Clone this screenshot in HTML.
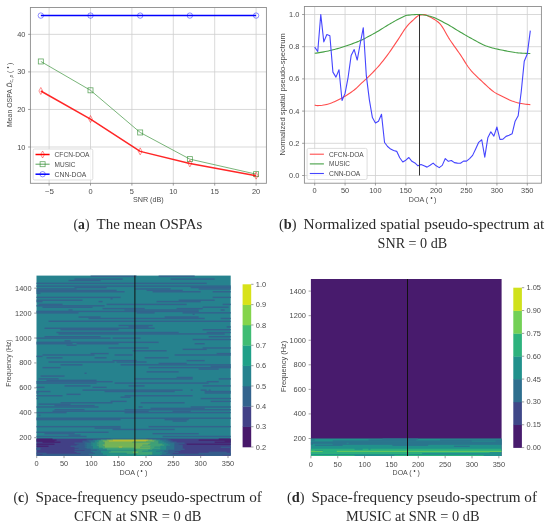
<!DOCTYPE html>
<html><head><meta charset="utf-8"><style>
html,body{margin:0;padding:0;background:#fff;}
svg{display:block;filter:blur(0.4px);}
text{font-family:"Liberation Sans",sans-serif;}
.cap{font-family:"Liberation Serif",serif;}
</style></head><body>
<svg width="550" height="529" viewBox="0 0 550 529">
<rect width="550" height="529" fill="#fff"/>
<line x1="49.1" y1="7.5" x2="49.1" y2="183.3" stroke="#cfcfcf" stroke-width="0.8" />
<line x1="90.5" y1="7.5" x2="90.5" y2="183.3" stroke="#cfcfcf" stroke-width="0.8" />
<line x1="131.9" y1="7.5" x2="131.9" y2="183.3" stroke="#cfcfcf" stroke-width="0.8" />
<line x1="173.3" y1="7.5" x2="173.3" y2="183.3" stroke="#cfcfcf" stroke-width="0.8" />
<line x1="214.7" y1="7.5" x2="214.7" y2="183.3" stroke="#cfcfcf" stroke-width="0.8" />
<line x1="256.1" y1="7.5" x2="256.1" y2="183.3" stroke="#cfcfcf" stroke-width="0.8" />
<line x1="30.4" y1="147" x2="266.4" y2="147" stroke="#cfcfcf" stroke-width="0.8" />
<line x1="30.4" y1="109.45" x2="266.4" y2="109.45" stroke="#cfcfcf" stroke-width="0.8" />
<line x1="30.4" y1="71.9" x2="266.4" y2="71.9" stroke="#cfcfcf" stroke-width="0.8" />
<line x1="30.4" y1="34.35" x2="266.4" y2="34.35" stroke="#cfcfcf" stroke-width="0.8" />
<polyline points="40.82,15.58 90.5,15.58 140.18,15.58 189.86,15.58 256.1,15.58" fill="none" stroke="#0000ff" stroke-width="1.5" stroke-linejoin="round" stroke-linecap="butt" />
<circle cx="40.82" cy="15.58" r="2.7" fill="none" stroke="#0000ff" stroke-opacity="0.55" stroke-width="0.8"/>
<circle cx="90.5" cy="15.58" r="2.7" fill="none" stroke="#0000ff" stroke-opacity="0.55" stroke-width="0.8"/>
<circle cx="140.18" cy="15.58" r="2.7" fill="none" stroke="#0000ff" stroke-opacity="0.55" stroke-width="0.8"/>
<circle cx="189.86" cy="15.58" r="2.7" fill="none" stroke="#0000ff" stroke-opacity="0.55" stroke-width="0.8"/>
<circle cx="256.1" cy="15.58" r="2.7" fill="none" stroke="#0000ff" stroke-opacity="0.55" stroke-width="0.8"/>
<polyline points="40.82,61.46 90.5,90.3 140.18,132.47 189.86,159.13 256.1,174.15" fill="none" stroke="#2e8b2e" stroke-width="0.8" stroke-linejoin="round" stroke-linecap="butt" stroke-opacity="0.8"/>
<rect x="38.32" y="58.96" width="5" height="5" fill="none" stroke="#2e8b2e" stroke-opacity="0.75" stroke-width="0.8"/>
<rect x="88" y="87.8" width="5" height="5" fill="none" stroke="#2e8b2e" stroke-opacity="0.75" stroke-width="0.8"/>
<rect x="137.68" y="129.97" width="5" height="5" fill="none" stroke="#2e8b2e" stroke-opacity="0.75" stroke-width="0.8"/>
<rect x="187.36" y="156.63" width="5" height="5" fill="none" stroke="#2e8b2e" stroke-opacity="0.75" stroke-width="0.8"/>
<rect x="253.6" y="171.65" width="5" height="5" fill="none" stroke="#2e8b2e" stroke-opacity="0.75" stroke-width="0.8"/>
<polyline points="40.82,90.98 90.5,119.06 140.18,151.39 189.86,163.41 256.1,175.65" fill="none" stroke="#ff0000" stroke-width="1.5" stroke-linejoin="round" stroke-linecap="butt" stroke-opacity="0.85"/>
<path d="M40.82,87.48 L42.72,90.98 L40.82,94.48 L38.92,90.98 Z" fill="none" stroke="#ff0000" stroke-opacity="0.55" stroke-width="0.8"/>
<path d="M90.5,115.56 L92.4,119.06 L90.5,122.56 L88.6,119.06 Z" fill="none" stroke="#ff0000" stroke-opacity="0.55" stroke-width="0.8"/>
<path d="M140.18,147.89 L142.08,151.39 L140.18,154.89 L138.28,151.39 Z" fill="none" stroke="#ff0000" stroke-opacity="0.55" stroke-width="0.8"/>
<path d="M189.86,159.91 L191.76,163.41 L189.86,166.91 L187.96,163.41 Z" fill="none" stroke="#ff0000" stroke-opacity="0.55" stroke-width="0.8"/>
<path d="M256.1,172.15 L258,175.65 L256.1,179.15 L254.2,175.65 Z" fill="none" stroke="#ff0000" stroke-opacity="0.55" stroke-width="0.8"/>
<rect x="30.4" y="7.5" width="236" height="175.8" fill="none" stroke="#8c8c8c" stroke-width="0.9"/>
<line x1="49.1" y1="183.3" x2="49.1" y2="185.6" stroke="#777" stroke-width="0.7" />
<text x="49.4" y="193.5" text-anchor="middle" font-size="7.2" fill="#4a4a4a"  textLength="9.12" lengthAdjust="spacingAndGlyphs">&#8722;5</text>
<line x1="90.5" y1="183.3" x2="90.5" y2="185.6" stroke="#777" stroke-width="0.7" />
<text x="90.5" y="193.5" text-anchor="middle" font-size="7.2" fill="#4a4a4a"  textLength="4.12" lengthAdjust="spacingAndGlyphs">0</text>
<line x1="131.9" y1="183.3" x2="131.9" y2="185.6" stroke="#777" stroke-width="0.7" />
<text x="131.9" y="193.5" text-anchor="middle" font-size="7.2" fill="#4a4a4a"  textLength="4.12" lengthAdjust="spacingAndGlyphs">5</text>
<line x1="173.3" y1="183.3" x2="173.3" y2="185.6" stroke="#777" stroke-width="0.7" />
<text x="173.3" y="193.5" text-anchor="middle" font-size="7.2" fill="#4a4a4a"  textLength="8.24" lengthAdjust="spacingAndGlyphs">10</text>
<line x1="214.7" y1="183.3" x2="214.7" y2="185.6" stroke="#777" stroke-width="0.7" />
<text x="214.7" y="193.5" text-anchor="middle" font-size="7.2" fill="#4a4a4a"  textLength="8.24" lengthAdjust="spacingAndGlyphs">15</text>
<line x1="256.1" y1="183.3" x2="256.1" y2="185.6" stroke="#777" stroke-width="0.7" />
<text x="256.1" y="193.5" text-anchor="middle" font-size="7.2" fill="#4a4a4a"  textLength="8.24" lengthAdjust="spacingAndGlyphs">20</text>
<line x1="28.1" y1="147" x2="30.4" y2="147" stroke="#777" stroke-width="0.7" />
<text x="25.5" y="149.55" text-anchor="end" font-size="7.2" fill="#4a4a4a"  textLength="8.24" lengthAdjust="spacingAndGlyphs">10</text>
<line x1="28.1" y1="109.45" x2="30.4" y2="109.45" stroke="#777" stroke-width="0.7" />
<text x="25.5" y="112" text-anchor="end" font-size="7.2" fill="#4a4a4a"  textLength="8.24" lengthAdjust="spacingAndGlyphs">20</text>
<line x1="28.1" y1="71.9" x2="30.4" y2="71.9" stroke="#777" stroke-width="0.7" />
<text x="25.5" y="74.45" text-anchor="end" font-size="7.2" fill="#4a4a4a"  textLength="8.24" lengthAdjust="spacingAndGlyphs">30</text>
<line x1="28.1" y1="34.35" x2="30.4" y2="34.35" stroke="#777" stroke-width="0.7" />
<text x="25.5" y="36.9" text-anchor="end" font-size="7.2" fill="#4a4a4a"  textLength="8.24" lengthAdjust="spacingAndGlyphs">40</text>
<text x="148.3" y="202" text-anchor="middle" font-size="7.2" fill="#4a4a4a" >SNR (dB)</text>
<text transform="translate(11.6,94.8) rotate(-90)" x="-32.2" textLength="64.4" lengthAdjust="spacingAndGlyphs" font-size="7.2" fill="#4a4a4a">Mean OSPA <tspan font-style="italic">D&#772;</tspan><tspan font-size="5" font-style="italic" dy="1.5">c, p</tspan><tspan dy="-1.5"> (&#8201;</tspan><tspan font-size="5" dy="-2">&#8728;</tspan><tspan dy="2">&#8201;)</tspan></text>
<rect x="33.2" y="149" width="59.6" height="31" rx="1.5" fill="#fff" fill-opacity="0.8" stroke="#d0d0d0" stroke-width="0.7"/>
<line x1="35.5" y1="154.5" x2="49.6" y2="154.5" stroke="#ff0000" stroke-width="1.5" />
<path d="M42.6,151 L44.5,154.5 L42.6,158 L40.7,154.5 Z" fill="none" stroke="#ff0000" stroke-opacity="0.55" stroke-width="0.8"/>
<text x="54.6" y="157" text-anchor="start" font-size="7.2" fill="#4a4a4a"  textLength="34.9" lengthAdjust="spacingAndGlyphs">CFCN-DOA</text>
<line x1="35.5" y1="164.2" x2="49.6" y2="164.2" stroke="#2e8b2e" stroke-width="0.8" />
<rect x="40.1" y="161.7" width="5" height="5" fill="none" stroke="#2e8b2e" stroke-opacity="0.75" stroke-width="0.8"/>
<text x="54.6" y="166.7" text-anchor="start" font-size="7.2" fill="#4a4a4a"  textLength="20.9" lengthAdjust="spacingAndGlyphs">MUSIC</text>
<line x1="35.5" y1="174.2" x2="49.6" y2="174.2" stroke="#0000ff" stroke-width="1.5" />
<circle cx="42.6" cy="174.2" r="2.7" fill="none" stroke="#0000ff" stroke-opacity="0.55" stroke-width="0.8"/>
<text x="54.6" y="176.7" text-anchor="start" font-size="7.2" fill="#4a4a4a"  textLength="31.8" lengthAdjust="spacingAndGlyphs">CNN-DOA</text>
<line x1="314.7" y1="6.5" x2="314.7" y2="183.2" stroke="#cfcfcf" stroke-width="0.8" />
<line x1="345.07" y1="6.5" x2="345.07" y2="183.2" stroke="#cfcfcf" stroke-width="0.8" />
<line x1="375.44" y1="6.5" x2="375.44" y2="183.2" stroke="#cfcfcf" stroke-width="0.8" />
<line x1="405.81" y1="6.5" x2="405.81" y2="183.2" stroke="#cfcfcf" stroke-width="0.8" />
<line x1="436.18" y1="6.5" x2="436.18" y2="183.2" stroke="#cfcfcf" stroke-width="0.8" />
<line x1="466.55" y1="6.5" x2="466.55" y2="183.2" stroke="#cfcfcf" stroke-width="0.8" />
<line x1="496.92" y1="6.5" x2="496.92" y2="183.2" stroke="#cfcfcf" stroke-width="0.8" />
<line x1="527.29" y1="6.5" x2="527.29" y2="183.2" stroke="#cfcfcf" stroke-width="0.8" />
<line x1="304.4" y1="175.5" x2="541.4" y2="175.5" stroke="#cfcfcf" stroke-width="0.8" />
<line x1="304.4" y1="143.3" x2="541.4" y2="143.3" stroke="#cfcfcf" stroke-width="0.8" />
<line x1="304.4" y1="111.1" x2="541.4" y2="111.1" stroke="#cfcfcf" stroke-width="0.8" />
<line x1="304.4" y1="78.9" x2="541.4" y2="78.9" stroke="#cfcfcf" stroke-width="0.8" />
<line x1="304.4" y1="46.7" x2="541.4" y2="46.7" stroke="#cfcfcf" stroke-width="0.8" />
<line x1="304.4" y1="14.5" x2="541.4" y2="14.5" stroke="#cfcfcf" stroke-width="0.8" />
<polyline points="314.7,105.14 316.22,105.47 317.74,105.63 319.26,105.57 320.77,105.43 322.29,105.22 323.81,104.96 325.33,104.67 326.85,104.37 328.37,103.99 329.88,103.51 331.4,102.96 332.92,102.34 334.44,101.67 335.96,100.96 337.48,100.22 339,99.47 340.51,98.71 342.03,97.93 343.55,97.1 345.07,96.22 346.59,95.3 348.11,94.33 349.63,93.32 351.14,92.26 352.66,91.15 354.18,90 355.7,88.77 357.22,87.35 358.74,85.85 360.25,84.37 361.77,82.97 363.29,81.58 364.81,80.19 366.33,78.78 367.85,77.32 369.37,75.83 370.88,74.33 372.4,72.8 373.92,71.25 375.44,69.65 376.96,68 378.48,66.3 380,64.53 381.51,62.71 383.03,60.83 384.55,58.9 386.07,56.92 387.59,54.9 389.11,52.79 390.62,50.61 392.14,48.38 393.66,46.12 395.18,43.85 396.7,41.58 398.22,39.33 399.74,37 401.25,34.6 402.77,32.22 404.29,29.92 405.81,27.78 407.33,25.9 408.85,24.21 410.37,22.67 411.88,21.23 413.4,19.86 414.92,18.4 416.44,16.98 417.96,15.84 419.48,15.22 421,14.86 422.51,14.6 424.03,14.5 425.55,14.76 427.07,15.4 428.59,16.24 430.11,17.08 431.62,17.86 433.14,18.69 434.66,19.59 436.18,20.6 437.7,21.73 439.22,23.03 440.74,24.7 442.25,26.84 443.77,29.31 445.29,31.98 446.81,34.71 448.33,37.35 449.85,39.78 451.37,42.01 452.88,44.18 454.4,46.32 455.92,48.43 457.44,50.56 458.96,52.71 460.48,54.91 461.99,57.23 463.51,59.65 465.03,62.11 466.55,64.5 468.07,66.74 469.59,68.76 471.11,70.57 472.62,72.27 474.14,73.88 475.66,75.41 477.18,76.89 478.7,78.33 480.22,79.74 481.74,81.15 483.25,82.58 484.77,84.01 486.29,85.44 487.81,86.85 489.33,88.21 490.85,89.51 492.36,90.73 493.88,91.86 495.4,92.88 496.92,93.77 498.44,94.57 499.96,95.3 501.48,95.99 502.99,96.68 504.51,97.4 506.03,98.17 507.55,98.95 509.07,99.72 510.59,100.44 512.11,101.06 513.62,101.58 515.14,102.06 516.66,102.5 518.18,102.9 519.7,103.25 521.22,103.53 522.73,103.78 524.25,104.02 525.77,104.23 527.29,104.41 528.81,104.56 530.33,104.66" fill="none" stroke="#ff4d4d" stroke-width="1.1" stroke-linejoin="round" stroke-linecap="butt" />
<polyline points="314.7,53.3 316.22,53.1 317.74,52.88 319.26,52.64 320.77,52.39 322.29,52.12 323.81,51.84 325.33,51.55 326.85,51.25 328.37,50.92 329.88,50.58 331.4,50.21 332.92,49.83 334.44,49.44 335.96,49.03 337.48,48.61 339,48.18 340.51,47.74 342.03,47.28 343.55,46.81 345.07,46.31 346.59,45.81 348.11,45.28 349.63,44.74 351.14,44.19 352.66,43.63 354.18,43.07 355.7,42.49 357.22,41.88 358.74,41.25 360.25,40.58 361.77,39.88 363.29,39.16 364.81,38.41 366.33,37.63 367.85,36.84 369.37,36.04 370.88,35.22 372.4,34.38 373.92,33.54 375.44,32.69 376.96,31.82 378.48,30.92 380,29.99 381.51,29.05 383.03,28.1 384.55,27.15 386.07,26.2 387.59,25.27 389.11,24.37 390.62,23.49 392.14,22.62 393.66,21.75 395.18,20.89 396.7,20.05 398.22,19.24 399.74,18.47 401.25,17.73 402.77,16.95 404.29,16.18 405.81,15.58 407.33,15.27 408.85,15.09 410.37,14.94 411.88,14.8 413.4,14.69 414.92,14.61 416.44,14.54 417.96,14.51 419.48,14.5 421,14.57 422.51,14.73 424.03,14.96 425.55,15.24 427.07,15.57 428.59,15.92 430.11,16.27 431.62,16.68 433.14,17.19 434.66,17.79 436.18,18.47 437.7,19.2 439.22,19.97 440.74,20.77 442.25,21.58 443.77,22.4 445.29,23.19 446.81,24 448.33,24.85 449.85,25.74 451.37,26.65 452.88,27.58 454.4,28.52 455.92,29.46 457.44,30.39 458.96,31.31 460.48,32.21 461.99,33.09 463.51,33.98 465.03,34.87 466.55,35.75 468.07,36.62 469.59,37.47 471.11,38.31 472.62,39.13 474.14,39.95 475.66,40.79 477.18,41.63 478.7,42.47 480.22,43.28 481.74,44.06 483.25,44.79 484.77,45.46 486.29,46.06 487.81,46.58 489.33,47.05 490.85,47.5 492.36,47.93 493.88,48.33 495.4,48.71 496.92,49.06 498.44,49.4 499.96,49.73 501.48,50.04 502.99,50.33 504.51,50.62 506.03,50.91 507.55,51.2 509.07,51.49 510.59,51.77 512.11,52.03 513.62,52.28 515.14,52.52 516.66,52.72 518.18,52.9 519.7,53.04 521.22,53.14 522.73,53.22 524.25,53.3 525.77,53.36 527.29,53.41 528.81,53.45 530.33,53.46" fill="none" stroke="#45a045" stroke-width="1.1" stroke-linejoin="round" stroke-linecap="butt" />
<polyline points="314.7,47.18 317.74,51.53 320.77,14.5 323.81,41.87 326.85,34.46 329.88,35.75 332.92,72.14 335.96,77.13 339,69.72 342.03,100.47 345.07,93.39 348.11,77.29 351.14,55.56 354.18,49.6 357.22,60.06 360.25,43.48 363.29,27.7 366.33,75.68 369.37,99.83 372.4,117.54 375.44,123.01 378.48,121.24 381.51,114.32 384.55,142.5 387.59,146.52 390.62,149.1 393.66,150.55 396.7,151.35 399.74,157.79 402.77,161.98 405.81,160.21 408.85,157.47 411.88,161.33 414.92,162.94 417.96,165.84 421,164.55 424.03,165.84 427.07,167.13 430.11,165.2 433.14,163.1 436.18,165.84 439.22,167.61 442.25,165.36 445.29,158.59 448.33,161.33 451.37,160.53 454.4,162.62 457.44,163.1 460.48,163.26 463.51,161.17 466.55,161.17 469.59,158.59 472.62,155.38 475.66,148.94 478.7,142.33 481.74,139.76 484.77,157.15 487.81,137.83 490.85,131.87 493.88,136.06 496.92,127.04 499.96,139.44 502.99,139.11 506.03,136.38 509.07,135.25 512.11,133.8 515.14,121.24 518.18,115.77 521.22,91.78 524.25,61.19 527.29,53.94 530.33,30.6" fill="none" stroke="#4545ff" stroke-width="1.1" stroke-linejoin="round" stroke-linecap="butt" />
<line x1="419.5" y1="14.5" x2="419.5" y2="175.5" stroke="#333" stroke-width="1.0" />
<rect x="304.4" y="6.5" width="237" height="176.7" fill="none" stroke="#8c8c8c" stroke-width="0.9"/>
<line x1="314.7" y1="183.2" x2="314.7" y2="185.5" stroke="#777" stroke-width="0.7" />
<text x="314.7" y="193" text-anchor="middle" font-size="7.2" fill="#4a4a4a"  textLength="4.12" lengthAdjust="spacingAndGlyphs">0</text>
<line x1="345.07" y1="183.2" x2="345.07" y2="185.5" stroke="#777" stroke-width="0.7" />
<text x="345.07" y="193" text-anchor="middle" font-size="7.2" fill="#4a4a4a"  textLength="8.24" lengthAdjust="spacingAndGlyphs">50</text>
<line x1="375.44" y1="183.2" x2="375.44" y2="185.5" stroke="#777" stroke-width="0.7" />
<text x="375.44" y="193" text-anchor="middle" font-size="7.2" fill="#4a4a4a"  textLength="12.36" lengthAdjust="spacingAndGlyphs">100</text>
<line x1="405.81" y1="183.2" x2="405.81" y2="185.5" stroke="#777" stroke-width="0.7" />
<text x="405.81" y="193" text-anchor="middle" font-size="7.2" fill="#4a4a4a"  textLength="12.36" lengthAdjust="spacingAndGlyphs">150</text>
<line x1="436.18" y1="183.2" x2="436.18" y2="185.5" stroke="#777" stroke-width="0.7" />
<text x="436.18" y="193" text-anchor="middle" font-size="7.2" fill="#4a4a4a"  textLength="12.36" lengthAdjust="spacingAndGlyphs">200</text>
<line x1="466.55" y1="183.2" x2="466.55" y2="185.5" stroke="#777" stroke-width="0.7" />
<text x="466.55" y="193" text-anchor="middle" font-size="7.2" fill="#4a4a4a"  textLength="12.36" lengthAdjust="spacingAndGlyphs">250</text>
<line x1="496.92" y1="183.2" x2="496.92" y2="185.5" stroke="#777" stroke-width="0.7" />
<text x="496.92" y="193" text-anchor="middle" font-size="7.2" fill="#4a4a4a"  textLength="12.36" lengthAdjust="spacingAndGlyphs">300</text>
<line x1="527.29" y1="183.2" x2="527.29" y2="185.5" stroke="#777" stroke-width="0.7" />
<text x="527.29" y="193" text-anchor="middle" font-size="7.2" fill="#4a4a4a"  textLength="12.36" lengthAdjust="spacingAndGlyphs">350</text>
<line x1="302.1" y1="175.5" x2="304.4" y2="175.5" stroke="#777" stroke-width="0.7" />
<text x="299.4" y="178.05" text-anchor="end" font-size="7.2" fill="#4a4a4a"  textLength="10.34" lengthAdjust="spacingAndGlyphs">0.0</text>
<line x1="302.1" y1="143.3" x2="304.4" y2="143.3" stroke="#777" stroke-width="0.7" />
<text x="299.4" y="145.85" text-anchor="end" font-size="7.2" fill="#4a4a4a"  textLength="10.34" lengthAdjust="spacingAndGlyphs">0.2</text>
<line x1="302.1" y1="111.1" x2="304.4" y2="111.1" stroke="#777" stroke-width="0.7" />
<text x="299.4" y="113.65" text-anchor="end" font-size="7.2" fill="#4a4a4a"  textLength="10.34" lengthAdjust="spacingAndGlyphs">0.4</text>
<line x1="302.1" y1="78.9" x2="304.4" y2="78.9" stroke="#777" stroke-width="0.7" />
<text x="299.4" y="81.45" text-anchor="end" font-size="7.2" fill="#4a4a4a"  textLength="10.34" lengthAdjust="spacingAndGlyphs">0.6</text>
<line x1="302.1" y1="46.7" x2="304.4" y2="46.7" stroke="#777" stroke-width="0.7" />
<text x="299.4" y="49.25" text-anchor="end" font-size="7.2" fill="#4a4a4a"  textLength="10.34" lengthAdjust="spacingAndGlyphs">0.8</text>
<line x1="302.1" y1="14.5" x2="304.4" y2="14.5" stroke="#777" stroke-width="0.7" />
<text x="299.4" y="17.05" text-anchor="end" font-size="7.2" fill="#4a4a4a"  textLength="10.34" lengthAdjust="spacingAndGlyphs">1.0</text>
<text x="408.8" y="201.6" textLength="27.6" lengthAdjust="spacingAndGlyphs" font-size="7.2" fill="#4a4a4a">DOA (&#8201;<tspan font-size="5" dy="-2">&#8728;</tspan><tspan dy="2">&#8201;)</tspan></text>
<text transform="translate(284.9,94.4) rotate(-90)" x="-61.1" textLength="122.2" lengthAdjust="spacingAndGlyphs" font-size="7.2" fill="#4a4a4a">Normalized spatial pseudo-spectrum</text>
<rect x="307.1" y="148.4" width="60" height="31.1" rx="1.5" fill="#fff" fill-opacity="0.8" stroke="#d0d0d0" stroke-width="0.7"/>
<line x1="309.8" y1="154.2" x2="323.9" y2="154.2" stroke="#ff4d4d" stroke-width="1.1" />
<text x="329.1" y="156.7" text-anchor="start" font-size="7.2" fill="#4a4a4a"  textLength="34.6" lengthAdjust="spacingAndGlyphs">CFCN-DOA</text>
<line x1="309.8" y1="163.9" x2="323.9" y2="163.9" stroke="#45a045" stroke-width="1.1" />
<text x="329.1" y="166.4" text-anchor="start" font-size="7.2" fill="#4a4a4a"  textLength="20.8" lengthAdjust="spacingAndGlyphs">MUSIC</text>
<line x1="309.8" y1="173.5" x2="323.9" y2="173.5" stroke="#4545ff" stroke-width="1.1" />
<text x="329.1" y="176" text-anchor="start" font-size="7.2" fill="#4a4a4a"  textLength="31.2" lengthAdjust="spacingAndGlyphs">CNN-DOA</text>
<rect x="36.5" y="275.6" width="194.2" height="180.2" fill="#26828e"/>
<rect x="90.56" y="275.6" width="46.05" height="1.41" fill="#33638d"/>
<rect x="158.63" y="275.6" width="36.04" height="1.41" fill="#33638d"/>
<rect x="74.54" y="278.41" width="48.05" height="1.41" fill="#33638d"/>
<rect x="170.64" y="278.41" width="44.05" height="1.41" fill="#33638d"/>
<rect x="68.53" y="279.82" width="32.03" height="1.41" fill="#33638d"/>
<rect x="36.5" y="282.63" width="170.18" height="1.41" fill="#33638d"/>
<rect x="36.5" y="285.44" width="194.2" height="1.41" fill="#33638d"/>
<rect x="74.54" y="286.84" width="32.03" height="1.41" fill="#33638d"/>
<rect x="190.66" y="286.84" width="40.04" height="1.41" fill="#33638d"/>
<rect x="36.5" y="288.25" width="40.04" height="1.41" fill="#33638d"/>
<rect x="134.6" y="288.25" width="36.04" height="1.41" fill="#33638d"/>
<rect x="198.67" y="288.25" width="32.03" height="1.41" fill="#33638d"/>
<rect x="36.5" y="289.65" width="80.08" height="1.41" fill="#33638d"/>
<rect x="146.61" y="289.65" width="36.04" height="1.41" fill="#33638d"/>
<rect x="36.5" y="291.06" width="88.09" height="1.41" fill="#33638d"/>
<rect x="152.62" y="291.06" width="48.05" height="1.41" fill="#33638d"/>
<rect x="212.68" y="291.06" width="18.02" height="1.41" fill="#33638d"/>
<rect x="36.5" y="292.46" width="4" height="1.41" fill="#33638d"/>
<rect x="36.5" y="296.68" width="84.09" height="1.41" fill="#33638d"/>
<rect x="212.68" y="296.68" width="18.02" height="1.41" fill="#33638d"/>
<rect x="110.58" y="298.08" width="2" height="1.41" fill="#33638d"/>
<rect x="36.5" y="299.49" width="46.05" height="1.41" fill="#33638d"/>
<rect x="178.65" y="299.49" width="36.04" height="1.41" fill="#33638d"/>
<rect x="36.5" y="300.89" width="6.01" height="1.41" fill="#33638d"/>
<rect x="98.56" y="300.89" width="4" height="1.41" fill="#33638d"/>
<rect x="156.62" y="300.89" width="44.05" height="1.41" fill="#33638d"/>
<rect x="38.5" y="303.7" width="24.02" height="1.41" fill="#33638d"/>
<rect x="106.57" y="303.7" width="80.08" height="1.41" fill="#33638d"/>
<rect x="222.69" y="303.7" width="8.01" height="1.41" fill="#33638d"/>
<rect x="36.5" y="305.11" width="68.07" height="1.41" fill="#33638d"/>
<rect x="42.51" y="306.51" width="50.05" height="1.41" fill="#33638d"/>
<rect x="202.67" y="306.51" width="26.03" height="1.41" fill="#33638d"/>
<rect x="102.57" y="307.92" width="42.04" height="1.41" fill="#33638d"/>
<rect x="176.64" y="307.92" width="26.03" height="1.41" fill="#33638d"/>
<rect x="68.53" y="309.32" width="4" height="1.41" fill="#33638d"/>
<rect x="124.59" y="309.32" width="74.08" height="1.41" fill="#33638d"/>
<rect x="220.69" y="309.32" width="4" height="1.41" fill="#33638d"/>
<rect x="36.5" y="310.73" width="162.17" height="1.41" fill="#33638d"/>
<rect x="36.5" y="312.13" width="42.04" height="1.41" fill="#33638d"/>
<rect x="136.6" y="312.13" width="18.02" height="1.41" fill="#33638d"/>
<rect x="182.65" y="312.13" width="48.05" height="1.41" fill="#33638d"/>
<rect x="192.66" y="313.54" width="2" height="1.41" fill="#33638d"/>
<rect x="78.54" y="316.35" width="22.02" height="1.41" fill="#33638d"/>
<rect x="164.63" y="316.35" width="34.04" height="1.41" fill="#33638d"/>
<rect x="88.55" y="317.76" width="116.12" height="1.41" fill="#33638d"/>
<rect x="220.69" y="317.76" width="10.01" height="1.41" fill="#33638d"/>
<rect x="48.51" y="320.57" width="182.19" height="1.41" fill="#33638d"/>
<rect x="118.58" y="324.78" width="34.04" height="1.41" fill="#33638d"/>
<rect x="128.59" y="326.19" width="20.02" height="1.41" fill="#33638d"/>
<rect x="226.7" y="326.19" width="4" height="1.41" fill="#33638d"/>
<rect x="44.51" y="327.59" width="110.11" height="1.41" fill="#33638d"/>
<rect x="60.52" y="329" width="58.06" height="1.41" fill="#33638d"/>
<rect x="202.67" y="329" width="28.03" height="1.41" fill="#33638d"/>
<rect x="56.52" y="331.81" width="122.13" height="1.41" fill="#33638d"/>
<rect x="206.68" y="331.81" width="24.02" height="1.41" fill="#33638d"/>
<rect x="58.52" y="333.21" width="166.17" height="1.41" fill="#33638d"/>
<rect x="44.51" y="336.02" width="56.06" height="1.41" fill="#33638d"/>
<rect x="208.68" y="336.02" width="22.02" height="1.41" fill="#33638d"/>
<rect x="36.5" y="337.43" width="74.08" height="1.41" fill="#33638d"/>
<rect x="112.58" y="337.43" width="28.03" height="1.41" fill="#33638d"/>
<rect x="192.66" y="338.83" width="38.04" height="1.41" fill="#33638d"/>
<rect x="64.53" y="340.24" width="6.01" height="1.41" fill="#33638d"/>
<rect x="36.5" y="341.64" width="122.13" height="1.41" fill="#33638d"/>
<rect x="36.5" y="343.05" width="36.04" height="1.41" fill="#33638d"/>
<rect x="76.54" y="343.05" width="42.04" height="1.41" fill="#33638d"/>
<rect x="194.66" y="343.05" width="10.01" height="1.41" fill="#33638d"/>
<rect x="66.53" y="344.45" width="10.01" height="1.41" fill="#33638d"/>
<rect x="108.57" y="347.26" width="40.04" height="1.41" fill="#33638d"/>
<rect x="202.67" y="347.26" width="28.03" height="1.41" fill="#33638d"/>
<rect x="182.65" y="348.67" width="24.02" height="1.41" fill="#33638d"/>
<rect x="132.6" y="350.07" width="34.04" height="1.41" fill="#33638d"/>
<rect x="90.56" y="352.88" width="18.02" height="1.41" fill="#33638d"/>
<rect x="216.69" y="352.88" width="14.01" height="1.41" fill="#33638d"/>
<rect x="42.51" y="354.29" width="52.05" height="1.41" fill="#33638d"/>
<rect x="114.58" y="354.29" width="18.02" height="1.41" fill="#33638d"/>
<rect x="174.64" y="354.29" width="56.06" height="1.41" fill="#33638d"/>
<rect x="36.5" y="355.69" width="6.01" height="1.41" fill="#33638d"/>
<rect x="46.51" y="357.1" width="16.02" height="1.41" fill="#33638d"/>
<rect x="94.56" y="357.1" width="12.01" height="1.41" fill="#33638d"/>
<rect x="144.61" y="357.1" width="24.02" height="1.41" fill="#33638d"/>
<rect x="112.58" y="359.91" width="24.02" height="1.41" fill="#33638d"/>
<rect x="186.65" y="359.91" width="18.02" height="1.41" fill="#33638d"/>
<rect x="48.51" y="361.32" width="66.07" height="1.41" fill="#33638d"/>
<rect x="116.58" y="361.32" width="30.03" height="1.41" fill="#33638d"/>
<rect x="158.63" y="362.72" width="28.03" height="1.41" fill="#33638d"/>
<rect x="60.52" y="364.13" width="22.02" height="1.41" fill="#33638d"/>
<rect x="120.59" y="364.13" width="110.11" height="1.41" fill="#33638d"/>
<rect x="210.68" y="365.53" width="20.02" height="1.41" fill="#33638d"/>
<rect x="42.51" y="366.94" width="18.02" height="1.41" fill="#33638d"/>
<rect x="148.62" y="366.94" width="82.08" height="1.41" fill="#33638d"/>
<rect x="198.67" y="368.34" width="20.02" height="1.41" fill="#33638d"/>
<rect x="146.61" y="371.15" width="32.03" height="1.41" fill="#33638d"/>
<rect x="84.55" y="372.56" width="2" height="1.41" fill="#33638d"/>
<rect x="40.5" y="375.37" width="24.02" height="1.41" fill="#33638d"/>
<rect x="176.64" y="376.77" width="16.02" height="1.41" fill="#33638d"/>
<rect x="38.5" y="378.18" width="20.02" height="1.41" fill="#33638d"/>
<rect x="134.6" y="378.18" width="58.06" height="1.41" fill="#33638d"/>
<rect x="218.69" y="378.18" width="12.01" height="1.41" fill="#33638d"/>
<rect x="46.51" y="379.58" width="50.05" height="1.41" fill="#33638d"/>
<rect x="36.5" y="380.99" width="76.08" height="1.41" fill="#33638d"/>
<rect x="206.68" y="380.99" width="12.01" height="1.41" fill="#33638d"/>
<rect x="36.5" y="382.39" width="60.06" height="1.41" fill="#33638d"/>
<rect x="114.58" y="382.39" width="94.1" height="1.41" fill="#33638d"/>
<rect x="64.53" y="385.2" width="26.03" height="1.41" fill="#33638d"/>
<rect x="128.59" y="385.2" width="16.02" height="1.41" fill="#33638d"/>
<rect x="202.67" y="385.2" width="28.03" height="1.41" fill="#33638d"/>
<rect x="36.5" y="386.61" width="8.01" height="1.41" fill="#33638d"/>
<rect x="92.56" y="386.61" width="14.01" height="1.41" fill="#33638d"/>
<rect x="82.55" y="389.42" width="100.1" height="1.41" fill="#33638d"/>
<rect x="190.66" y="389.42" width="2" height="1.41" fill="#33638d"/>
<rect x="200.67" y="389.42" width="6.01" height="1.41" fill="#33638d"/>
<rect x="208.68" y="389.42" width="2" height="1.41" fill="#33638d"/>
<rect x="36.5" y="390.82" width="14.01" height="1.41" fill="#33638d"/>
<rect x="104.57" y="390.82" width="70.07" height="1.41" fill="#33638d"/>
<rect x="204.67" y="390.82" width="26.03" height="1.41" fill="#33638d"/>
<rect x="36.5" y="392.23" width="2" height="1.41" fill="#33638d"/>
<rect x="204.67" y="392.23" width="26.03" height="1.41" fill="#33638d"/>
<rect x="66.53" y="393.63" width="14.01" height="1.41" fill="#33638d"/>
<rect x="36.5" y="395.04" width="26.03" height="1.41" fill="#33638d"/>
<rect x="124.59" y="395.04" width="68.07" height="1.41" fill="#33638d"/>
<rect x="120.59" y="396.44" width="10.01" height="1.41" fill="#33638d"/>
<rect x="36.5" y="397.85" width="2" height="1.41" fill="#33638d"/>
<rect x="200.67" y="397.85" width="30.03" height="1.41" fill="#33638d"/>
<rect x="110.58" y="400.66" width="16.02" height="1.41" fill="#33638d"/>
<rect x="210.68" y="400.66" width="20.02" height="1.41" fill="#33638d"/>
<rect x="60.52" y="402.07" width="52.05" height="1.41" fill="#33638d"/>
<rect x="140.61" y="402.07" width="44.05" height="1.41" fill="#33638d"/>
<rect x="38.5" y="403.47" width="32.03" height="1.41" fill="#33638d"/>
<rect x="54.52" y="404.88" width="40.04" height="1.41" fill="#33638d"/>
<rect x="36.5" y="406.28" width="62.06" height="1.41" fill="#33638d"/>
<rect x="138.61" y="406.28" width="4" height="1.41" fill="#33638d"/>
<rect x="190.66" y="406.28" width="40.04" height="1.41" fill="#33638d"/>
<rect x="150.62" y="407.69" width="54.06" height="1.41" fill="#33638d"/>
<rect x="54.52" y="409.09" width="30.03" height="1.41" fill="#33638d"/>
<rect x="124.59" y="409.09" width="106.11" height="1.41" fill="#33638d"/>
<rect x="52.52" y="410.5" width="96.1" height="1.41" fill="#33638d"/>
<rect x="172.64" y="410.5" width="18.02" height="1.41" fill="#33638d"/>
<rect x="36.5" y="411.9" width="30.03" height="1.41" fill="#33638d"/>
<rect x="124.59" y="411.9" width="106.11" height="1.41" fill="#33638d"/>
<rect x="38.5" y="414.71" width="2" height="1.41" fill="#33638d"/>
<rect x="36.5" y="417.52" width="194.2" height="1.41" fill="#33638d"/>
<rect x="36.5" y="418.93" width="84.09" height="1.41" fill="#33638d"/>
<rect x="164.63" y="418.93" width="24.02" height="1.41" fill="#33638d"/>
<rect x="172.64" y="420.33" width="14.01" height="1.41" fill="#33638d"/>
<rect x="36.5" y="425.95" width="84.09" height="1.41" fill="#33638d"/>
<rect x="148.62" y="425.95" width="82.08" height="1.41" fill="#33638d"/>
<rect x="94.56" y="427.36" width="26.03" height="1.41" fill="#33638d"/>
<rect x="112.58" y="428.76" width="62.06" height="1.41" fill="#33638d"/>
<rect x="36.5" y="431.57" width="72.07" height="1.41" fill="#33638d"/>
<rect x="44.51" y="432.98" width="30.03" height="1.41" fill="#33638d"/>
<rect x="152.62" y="432.98" width="46.05" height="1.41" fill="#33638d"/>
<rect x="68.53" y="434.38" width="12.01" height="1.41" fill="#33638d"/>
<rect x="36.5" y="435.79" width="50.05" height="1.41" fill="#33638d"/>
<rect x="162.63" y="435.79" width="68.07" height="1.41" fill="#33638d"/>
<rect x="36.5" y="438.6" width="194.2" height="17.2" fill="#424086"/>
<rect x="36.5" y="438.6" width="16.02" height="1.01" fill="#48186a"/>
<rect x="100.57" y="438.6" width="10.01" height="1.01" fill="#33638d"/>
<rect x="110.58" y="438.6" width="36.04" height="1.01" fill="#26828e"/>
<rect x="146.61" y="438.6" width="22.02" height="1.01" fill="#33638d"/>
<rect x="218.69" y="438.6" width="12.01" height="1.01" fill="#48186a"/>
<rect x="36.5" y="439.61" width="20.02" height="1.01" fill="#48186a"/>
<rect x="86.55" y="439.61" width="6.01" height="1.01" fill="#33638d"/>
<rect x="92.56" y="439.61" width="4" height="1.01" fill="#26828e"/>
<rect x="96.56" y="439.61" width="4" height="1.01" fill="#1fa088"/>
<rect x="100.57" y="439.61" width="6.01" height="1.01" fill="#3fbc73"/>
<rect x="106.57" y="439.61" width="6.01" height="1.01" fill="#84d44b"/>
<rect x="112.58" y="439.61" width="36.04" height="1.01" fill="#d8e219"/>
<rect x="148.62" y="439.61" width="4" height="1.01" fill="#84d44b"/>
<rect x="152.62" y="439.61" width="4" height="1.01" fill="#3fbc73"/>
<rect x="156.62" y="439.61" width="4" height="1.01" fill="#1fa088"/>
<rect x="160.63" y="439.61" width="6.01" height="1.01" fill="#26828e"/>
<rect x="166.63" y="439.61" width="4" height="1.01" fill="#33638d"/>
<rect x="198.67" y="439.61" width="32.03" height="1.01" fill="#48186a"/>
<rect x="36.5" y="440.62" width="18.02" height="1.01" fill="#48186a"/>
<rect x="82.55" y="440.62" width="6.01" height="1.01" fill="#33638d"/>
<rect x="88.55" y="440.62" width="6.01" height="1.01" fill="#26828e"/>
<rect x="94.56" y="440.62" width="4" height="1.01" fill="#1fa088"/>
<rect x="98.56" y="440.62" width="4" height="1.01" fill="#3fbc73"/>
<rect x="102.57" y="440.62" width="6.01" height="1.01" fill="#84d44b"/>
<rect x="108.57" y="440.62" width="38.04" height="1.01" fill="#d8e219"/>
<rect x="146.61" y="440.62" width="8.01" height="1.01" fill="#84d44b"/>
<rect x="154.62" y="440.62" width="4" height="1.01" fill="#3fbc73"/>
<rect x="158.63" y="440.62" width="4" height="1.01" fill="#1fa088"/>
<rect x="162.63" y="440.62" width="6.01" height="1.01" fill="#26828e"/>
<rect x="168.64" y="440.62" width="4" height="1.01" fill="#33638d"/>
<rect x="224.69" y="440.62" width="6.01" height="1.01" fill="#48186a"/>
<rect x="42.51" y="441.64" width="18.02" height="1.01" fill="#48186a"/>
<rect x="82.55" y="441.64" width="8.01" height="1.01" fill="#33638d"/>
<rect x="90.56" y="441.64" width="4" height="1.01" fill="#26828e"/>
<rect x="94.56" y="441.64" width="4" height="1.01" fill="#1fa088"/>
<rect x="98.56" y="441.64" width="6.01" height="1.01" fill="#3fbc73"/>
<rect x="104.57" y="441.64" width="28.03" height="1.01" fill="#84d44b"/>
<rect x="132.6" y="441.64" width="26.03" height="1.01" fill="#3fbc73"/>
<rect x="158.63" y="441.64" width="6.01" height="1.01" fill="#1fa088"/>
<rect x="164.63" y="441.64" width="6.01" height="1.01" fill="#26828e"/>
<rect x="170.64" y="441.64" width="6.01" height="1.01" fill="#33638d"/>
<rect x="214.68" y="441.64" width="16.02" height="1.01" fill="#48186a"/>
<rect x="74.54" y="442.65" width="10.01" height="1.01" fill="#33638d"/>
<rect x="84.55" y="442.65" width="6.01" height="1.01" fill="#26828e"/>
<rect x="90.56" y="442.65" width="6.01" height="1.01" fill="#1fa088"/>
<rect x="96.56" y="442.65" width="8.01" height="1.01" fill="#3fbc73"/>
<rect x="104.57" y="442.65" width="46.05" height="1.01" fill="#84d44b"/>
<rect x="150.62" y="442.65" width="8.01" height="1.01" fill="#3fbc73"/>
<rect x="158.63" y="442.65" width="8.01" height="1.01" fill="#1fa088"/>
<rect x="166.63" y="442.65" width="8.01" height="1.01" fill="#26828e"/>
<rect x="174.64" y="442.65" width="10.01" height="1.01" fill="#33638d"/>
<rect x="36.5" y="443.66" width="18.02" height="1.01" fill="#48186a"/>
<rect x="78.54" y="443.66" width="8.01" height="1.01" fill="#33638d"/>
<rect x="86.55" y="443.66" width="6.01" height="1.01" fill="#26828e"/>
<rect x="92.56" y="443.66" width="6.01" height="1.01" fill="#1fa088"/>
<rect x="98.56" y="443.66" width="6.01" height="1.01" fill="#3fbc73"/>
<rect x="104.57" y="443.66" width="44.05" height="1.01" fill="#84d44b"/>
<rect x="148.62" y="443.66" width="14.01" height="1.01" fill="#3fbc73"/>
<rect x="162.63" y="443.66" width="6.01" height="1.01" fill="#1fa088"/>
<rect x="168.64" y="443.66" width="6.01" height="1.01" fill="#26828e"/>
<rect x="174.64" y="443.66" width="4" height="1.01" fill="#33638d"/>
<rect x="186.65" y="443.66" width="44.05" height="1.01" fill="#48186a"/>
<rect x="76.54" y="444.67" width="8.01" height="1.01" fill="#33638d"/>
<rect x="84.55" y="444.67" width="6.01" height="1.01" fill="#26828e"/>
<rect x="90.56" y="444.67" width="6.01" height="1.01" fill="#1fa088"/>
<rect x="96.56" y="444.67" width="6.01" height="1.01" fill="#3fbc73"/>
<rect x="102.57" y="444.67" width="40.04" height="1.01" fill="#84d44b"/>
<rect x="142.61" y="444.67" width="22.02" height="1.01" fill="#3fbc73"/>
<rect x="164.63" y="444.67" width="6.01" height="1.01" fill="#1fa088"/>
<rect x="170.64" y="444.67" width="4" height="1.01" fill="#26828e"/>
<rect x="174.64" y="444.67" width="8.01" height="1.01" fill="#33638d"/>
<rect x="36.5" y="445.68" width="12.01" height="1.01" fill="#48186a"/>
<rect x="70.54" y="445.68" width="16.02" height="1.01" fill="#33638d"/>
<rect x="86.55" y="445.68" width="6.01" height="1.01" fill="#26828e"/>
<rect x="92.56" y="445.68" width="6.01" height="1.01" fill="#1fa088"/>
<rect x="98.56" y="445.68" width="6.01" height="1.01" fill="#3fbc73"/>
<rect x="104.57" y="445.68" width="46.05" height="1.01" fill="#84d44b"/>
<rect x="150.62" y="445.68" width="10.01" height="1.01" fill="#3fbc73"/>
<rect x="160.63" y="445.68" width="6.01" height="1.01" fill="#1fa088"/>
<rect x="166.63" y="445.68" width="8.01" height="1.01" fill="#26828e"/>
<rect x="174.64" y="445.68" width="8.01" height="1.01" fill="#33638d"/>
<rect x="74.54" y="446.69" width="10.01" height="1.01" fill="#33638d"/>
<rect x="84.55" y="446.69" width="8.01" height="1.01" fill="#26828e"/>
<rect x="92.56" y="446.69" width="6.01" height="1.01" fill="#1fa088"/>
<rect x="98.56" y="446.69" width="6.01" height="1.01" fill="#3fbc73"/>
<rect x="104.57" y="446.69" width="14.01" height="1.01" fill="#84d44b"/>
<rect x="118.58" y="446.69" width="4" height="1.01" fill="#d8e219"/>
<rect x="122.59" y="446.69" width="18.02" height="1.01" fill="#84d44b"/>
<rect x="140.61" y="446.69" width="14.01" height="1.01" fill="#3fbc73"/>
<rect x="154.62" y="446.69" width="12.01" height="1.01" fill="#1fa088"/>
<rect x="166.63" y="446.69" width="8.01" height="1.01" fill="#26828e"/>
<rect x="174.64" y="446.69" width="8.01" height="1.01" fill="#33638d"/>
<rect x="220.69" y="446.69" width="10.01" height="1.01" fill="#33638d"/>
<rect x="36.5" y="447.71" width="4" height="1.01" fill="#33638d"/>
<rect x="78.54" y="447.71" width="8.01" height="1.01" fill="#33638d"/>
<rect x="86.55" y="447.71" width="6.01" height="1.01" fill="#26828e"/>
<rect x="92.56" y="447.71" width="10.01" height="1.01" fill="#1fa088"/>
<rect x="102.57" y="447.71" width="32.03" height="1.01" fill="#3fbc73"/>
<rect x="134.6" y="447.71" width="16.02" height="1.01" fill="#84d44b"/>
<rect x="150.62" y="447.71" width="10.01" height="1.01" fill="#3fbc73"/>
<rect x="160.63" y="447.71" width="6.01" height="1.01" fill="#1fa088"/>
<rect x="166.63" y="447.71" width="8.01" height="1.01" fill="#26828e"/>
<rect x="174.64" y="447.71" width="8.01" height="1.01" fill="#33638d"/>
<rect x="36.5" y="448.72" width="4" height="1.01" fill="#33638d"/>
<rect x="74.54" y="448.72" width="16.02" height="1.01" fill="#33638d"/>
<rect x="90.56" y="448.72" width="8.01" height="1.01" fill="#26828e"/>
<rect x="98.56" y="448.72" width="8.01" height="1.01" fill="#1fa088"/>
<rect x="106.57" y="448.72" width="46.05" height="1.01" fill="#3fbc73"/>
<rect x="152.62" y="448.72" width="14.01" height="1.01" fill="#1fa088"/>
<rect x="166.63" y="448.72" width="8.01" height="1.01" fill="#26828e"/>
<rect x="174.64" y="448.72" width="10.01" height="1.01" fill="#33638d"/>
<rect x="84.55" y="449.73" width="12.01" height="1.01" fill="#33638d"/>
<rect x="96.56" y="449.73" width="10.01" height="1.01" fill="#26828e"/>
<rect x="106.57" y="449.73" width="30.03" height="1.01" fill="#1fa088"/>
<rect x="136.6" y="449.73" width="12.01" height="1.01" fill="#3fbc73"/>
<rect x="148.62" y="449.73" width="12.01" height="1.01" fill="#1fa088"/>
<rect x="160.63" y="449.73" width="8.01" height="1.01" fill="#26828e"/>
<rect x="168.64" y="449.73" width="12.01" height="1.01" fill="#33638d"/>
<rect x="74.54" y="450.74" width="16.02" height="1.01" fill="#33638d"/>
<rect x="90.56" y="450.74" width="10.01" height="1.01" fill="#26828e"/>
<rect x="100.57" y="450.74" width="10.01" height="1.01" fill="#1fa088"/>
<rect x="110.58" y="450.74" width="32.03" height="1.01" fill="#3fbc73"/>
<rect x="142.61" y="450.74" width="14.01" height="1.01" fill="#1fa088"/>
<rect x="156.62" y="450.74" width="8.01" height="1.01" fill="#26828e"/>
<rect x="164.63" y="450.74" width="10.01" height="1.01" fill="#33638d"/>
<rect x="76.54" y="451.75" width="16.02" height="1.01" fill="#33638d"/>
<rect x="92.56" y="451.75" width="8.01" height="1.01" fill="#26828e"/>
<rect x="100.57" y="451.75" width="8.01" height="1.01" fill="#1fa088"/>
<rect x="108.57" y="451.75" width="24.02" height="1.01" fill="#3fbc73"/>
<rect x="132.6" y="451.75" width="6.01" height="1.01" fill="#84d44b"/>
<rect x="138.61" y="451.75" width="14.01" height="1.01" fill="#3fbc73"/>
<rect x="152.62" y="451.75" width="10.01" height="1.01" fill="#1fa088"/>
<rect x="162.63" y="451.75" width="6.01" height="1.01" fill="#26828e"/>
<rect x="168.64" y="451.75" width="10.01" height="1.01" fill="#33638d"/>
<rect x="208.68" y="451.75" width="18.02" height="1.01" fill="#33638d"/>
<rect x="36.5" y="452.76" width="10.01" height="1.01" fill="#33638d"/>
<rect x="80.55" y="452.76" width="14.01" height="1.01" fill="#33638d"/>
<rect x="94.56" y="452.76" width="8.01" height="1.01" fill="#26828e"/>
<rect x="102.57" y="452.76" width="24.02" height="1.01" fill="#1fa088"/>
<rect x="126.59" y="452.76" width="26.03" height="1.01" fill="#3fbc73"/>
<rect x="152.62" y="452.76" width="8.01" height="1.01" fill="#1fa088"/>
<rect x="160.63" y="452.76" width="6.01" height="1.01" fill="#26828e"/>
<rect x="166.63" y="452.76" width="6.01" height="1.01" fill="#33638d"/>
<rect x="198.67" y="452.76" width="32.03" height="1.01" fill="#33638d"/>
<rect x="42.51" y="453.78" width="46.05" height="1.01" fill="#33638d"/>
<rect x="88.55" y="453.78" width="14.01" height="1.01" fill="#26828e"/>
<rect x="102.57" y="453.78" width="34.04" height="1.01" fill="#1fa088"/>
<rect x="136.6" y="453.78" width="16.02" height="1.01" fill="#3fbc73"/>
<rect x="152.62" y="453.78" width="10.01" height="1.01" fill="#1fa088"/>
<rect x="162.63" y="453.78" width="8.01" height="1.01" fill="#26828e"/>
<rect x="170.64" y="453.78" width="60.06" height="1.01" fill="#33638d"/>
<rect x="36.5" y="454.79" width="56.06" height="1.01" fill="#33638d"/>
<rect x="92.56" y="454.79" width="14.01" height="1.01" fill="#26828e"/>
<rect x="106.57" y="454.79" width="42.04" height="1.01" fill="#1fa088"/>
<rect x="148.62" y="454.79" width="12.01" height="1.01" fill="#26828e"/>
<rect x="160.63" y="454.79" width="24.02" height="1.01" fill="#33638d"/>
<rect x="204.67" y="454.79" width="18.02" height="1.01" fill="#33638d"/>
<line x1="134.9" y1="275.6" x2="134.9" y2="455.8" stroke="#111" stroke-width="1.0" />
<line x1="36.7" y1="455.8" x2="36.7" y2="458.1" stroke="#777" stroke-width="0.7" />
<text x="36.7" y="466.2" text-anchor="middle" font-size="7.2" fill="#4a4a4a"  textLength="4.12" lengthAdjust="spacingAndGlyphs">0</text>
<line x1="64.03" y1="455.8" x2="64.03" y2="458.1" stroke="#777" stroke-width="0.7" />
<text x="64.03" y="466.2" text-anchor="middle" font-size="7.2" fill="#4a4a4a"  textLength="8.24" lengthAdjust="spacingAndGlyphs">50</text>
<line x1="91.36" y1="455.8" x2="91.36" y2="458.1" stroke="#777" stroke-width="0.7" />
<text x="91.36" y="466.2" text-anchor="middle" font-size="7.2" fill="#4a4a4a"  textLength="12.36" lengthAdjust="spacingAndGlyphs">100</text>
<line x1="118.69" y1="455.8" x2="118.69" y2="458.1" stroke="#777" stroke-width="0.7" />
<text x="118.69" y="466.2" text-anchor="middle" font-size="7.2" fill="#4a4a4a"  textLength="12.36" lengthAdjust="spacingAndGlyphs">150</text>
<line x1="146.02" y1="455.8" x2="146.02" y2="458.1" stroke="#777" stroke-width="0.7" />
<text x="146.02" y="466.2" text-anchor="middle" font-size="7.2" fill="#4a4a4a"  textLength="12.36" lengthAdjust="spacingAndGlyphs">200</text>
<line x1="173.35" y1="455.8" x2="173.35" y2="458.1" stroke="#777" stroke-width="0.7" />
<text x="173.35" y="466.2" text-anchor="middle" font-size="7.2" fill="#4a4a4a"  textLength="12.36" lengthAdjust="spacingAndGlyphs">250</text>
<line x1="200.68" y1="455.8" x2="200.68" y2="458.1" stroke="#777" stroke-width="0.7" />
<text x="200.68" y="466.2" text-anchor="middle" font-size="7.2" fill="#4a4a4a"  textLength="12.36" lengthAdjust="spacingAndGlyphs">300</text>
<line x1="228.01" y1="455.8" x2="228.01" y2="458.1" stroke="#777" stroke-width="0.7" />
<text x="228.01" y="466.2" text-anchor="middle" font-size="7.2" fill="#4a4a4a"  textLength="12.36" lengthAdjust="spacingAndGlyphs">350</text>
<line x1="34.2" y1="437.7" x2="36.5" y2="437.7" stroke="#777" stroke-width="0.7" />
<text x="31.6" y="440.25" text-anchor="end" font-size="7.2" fill="#4a4a4a"  textLength="12.36" lengthAdjust="spacingAndGlyphs">200</text>
<line x1="34.2" y1="412.78" x2="36.5" y2="412.78" stroke="#777" stroke-width="0.7" />
<text x="31.6" y="415.33" text-anchor="end" font-size="7.2" fill="#4a4a4a"  textLength="12.36" lengthAdjust="spacingAndGlyphs">400</text>
<line x1="34.2" y1="387.86" x2="36.5" y2="387.86" stroke="#777" stroke-width="0.7" />
<text x="31.6" y="390.41" text-anchor="end" font-size="7.2" fill="#4a4a4a"  textLength="12.36" lengthAdjust="spacingAndGlyphs">600</text>
<line x1="34.2" y1="362.94" x2="36.5" y2="362.94" stroke="#777" stroke-width="0.7" />
<text x="31.6" y="365.49" text-anchor="end" font-size="7.2" fill="#4a4a4a"  textLength="12.36" lengthAdjust="spacingAndGlyphs">800</text>
<line x1="34.2" y1="338.02" x2="36.5" y2="338.02" stroke="#777" stroke-width="0.7" />
<text x="31.6" y="340.57" text-anchor="end" font-size="7.2" fill="#4a4a4a"  textLength="16.48" lengthAdjust="spacingAndGlyphs">1000</text>
<line x1="34.2" y1="313.1" x2="36.5" y2="313.1" stroke="#777" stroke-width="0.7" />
<text x="31.6" y="315.65" text-anchor="end" font-size="7.2" fill="#4a4a4a"  textLength="16.48" lengthAdjust="spacingAndGlyphs">1200</text>
<line x1="34.2" y1="288.18" x2="36.5" y2="288.18" stroke="#777" stroke-width="0.7" />
<text x="31.6" y="290.73" text-anchor="end" font-size="7.2" fill="#4a4a4a"  textLength="16.48" lengthAdjust="spacingAndGlyphs">1400</text>
<text x="119.5" y="475.2" textLength="27.8" lengthAdjust="spacingAndGlyphs" font-size="7.2" fill="#4a4a4a">DOA (&#8201;<tspan font-size="5" dy="-2">&#8728;</tspan><tspan dy="2">&#8201;)</tspan></text>
<text transform="translate(10.5,363.1) rotate(-90)" x="-23.7" textLength="47.4" lengthAdjust="spacingAndGlyphs" font-size="7.2" fill="#4a4a4a">Frequency (Hz)</text>
<rect x="242.6" y="426.66" width="8.6" height="20.64" fill="#48186a"/>
<rect x="242.6" y="406.32" width="8.6" height="20.64" fill="#424086"/>
<rect x="242.6" y="385.99" width="8.6" height="20.64" fill="#33638d"/>
<rect x="242.6" y="365.65" width="8.6" height="20.64" fill="#26828e"/>
<rect x="242.6" y="345.31" width="8.6" height="20.64" fill="#1fa088"/>
<rect x="242.6" y="324.98" width="8.6" height="20.64" fill="#3fbc73"/>
<rect x="242.6" y="304.64" width="8.6" height="20.64" fill="#84d44b"/>
<rect x="242.6" y="284.3" width="8.6" height="20.64" fill="#d8e219"/>
<line x1="251.2" y1="447" x2="253.5" y2="447" stroke="#777" stroke-width="0.7" />
<text x="255.8" y="449.55" text-anchor="start" font-size="7.2" fill="#4a4a4a"  textLength="10.34" lengthAdjust="spacingAndGlyphs">0.2</text>
<line x1="251.2" y1="426.66" x2="253.5" y2="426.66" stroke="#777" stroke-width="0.7" />
<text x="255.8" y="429.21" text-anchor="start" font-size="7.2" fill="#4a4a4a"  textLength="10.34" lengthAdjust="spacingAndGlyphs">0.3</text>
<line x1="251.2" y1="406.32" x2="253.5" y2="406.32" stroke="#777" stroke-width="0.7" />
<text x="255.8" y="408.88" text-anchor="start" font-size="7.2" fill="#4a4a4a"  textLength="10.34" lengthAdjust="spacingAndGlyphs">0.4</text>
<line x1="251.2" y1="385.99" x2="253.5" y2="385.99" stroke="#777" stroke-width="0.7" />
<text x="255.8" y="388.54" text-anchor="start" font-size="7.2" fill="#4a4a4a"  textLength="10.34" lengthAdjust="spacingAndGlyphs">0.5</text>
<line x1="251.2" y1="365.65" x2="253.5" y2="365.65" stroke="#777" stroke-width="0.7" />
<text x="255.8" y="368.2" text-anchor="start" font-size="7.2" fill="#4a4a4a"  textLength="10.34" lengthAdjust="spacingAndGlyphs">0.6</text>
<line x1="251.2" y1="345.31" x2="253.5" y2="345.31" stroke="#777" stroke-width="0.7" />
<text x="255.8" y="347.86" text-anchor="start" font-size="7.2" fill="#4a4a4a"  textLength="10.34" lengthAdjust="spacingAndGlyphs">0.7</text>
<line x1="251.2" y1="324.98" x2="253.5" y2="324.98" stroke="#777" stroke-width="0.7" />
<text x="255.8" y="327.53" text-anchor="start" font-size="7.2" fill="#4a4a4a"  textLength="10.34" lengthAdjust="spacingAndGlyphs">0.8</text>
<line x1="251.2" y1="304.64" x2="253.5" y2="304.64" stroke="#777" stroke-width="0.7" />
<text x="255.8" y="307.19" text-anchor="start" font-size="7.2" fill="#4a4a4a"  textLength="10.34" lengthAdjust="spacingAndGlyphs">0.9</text>
<line x1="251.2" y1="284.3" x2="253.5" y2="284.3" stroke="#777" stroke-width="0.7" />
<text x="255.8" y="286.85" text-anchor="start" font-size="7.2" fill="#4a4a4a"  textLength="10.34" lengthAdjust="spacingAndGlyphs">1.0</text>
<rect x="310.9" y="279.0" width="190.7" height="177" fill="#481b6d"/>
<rect x="310.9" y="438.5" width="190.7" height="17.5" fill="#21918c"/>
<rect x="382.41" y="438.5" width="35.76" height="1.03" fill="#2e6e8e"/>
<rect x="310.9" y="439.53" width="3.97" height="1.03" fill="#2e6e8e"/>
<rect x="368.51" y="439.53" width="47.68" height="1.03" fill="#2e6e8e"/>
<rect x="440.02" y="439.53" width="61.58" height="1.03" fill="#2e6e8e"/>
<rect x="332.75" y="440.56" width="139.05" height="1.03" fill="#2e6e8e"/>
<rect x="495.64" y="440.56" width="5.96" height="1.03" fill="#2e6e8e"/>
<rect x="310.9" y="441.59" width="190.7" height="1.03" fill="#2e6e8e"/>
<rect x="310.9" y="442.62" width="35.76" height="1.03" fill="#2e6e8e"/>
<rect x="348.64" y="442.62" width="152.96" height="1.03" fill="#2e6e8e"/>
<rect x="310.9" y="443.65" width="1.99" height="1.03" fill="#2e6e8e"/>
<rect x="332.75" y="443.65" width="168.85" height="1.03" fill="#2e6e8e"/>
<rect x="314.87" y="444.68" width="27.81" height="1.03" fill="#2e6e8e"/>
<rect x="392.34" y="444.68" width="35.76" height="1.03" fill="#2e6e8e"/>
<rect x="453.93" y="445.71" width="15.89" height="1.03" fill="#2e6e8e"/>
<rect x="310.9" y="448.79" width="43.7" height="1.03" fill="#2db27d"/>
<rect x="362.55" y="448.79" width="5.96" height="1.03" fill="#2db27d"/>
<rect x="370.49" y="448.79" width="131.11" height="1.03" fill="#2db27d"/>
<rect x="310.9" y="449.82" width="3.97" height="1.03" fill="#2db27d"/>
<rect x="322.82" y="449.82" width="178.78" height="1.03" fill="#2db27d"/>
<rect x="310.9" y="450.85" width="11.92" height="1.03" fill="#73d056"/>
<rect x="322.82" y="450.85" width="13.91" height="1.03" fill="#2db27d"/>
<rect x="336.72" y="450.85" width="164.88" height="1.03" fill="#73d056"/>
<rect x="310.9" y="451.88" width="178.78" height="1.03" fill="#2db27d"/>
<rect x="310.9" y="452.91" width="111.24" height="1.03" fill="#2db27d"/>
<rect x="310.9" y="454.97" width="43.7" height="1.03" fill="#2db27d"/>
<rect x="394.33" y="454.97" width="89.39" height="1.03" fill="#2db27d"/>
<line x1="407.5" y1="279" x2="407.5" y2="456" stroke="#111" stroke-width="1.0" />
<line x1="310.9" y1="456" x2="310.9" y2="458.3" stroke="#777" stroke-width="0.7" />
<text x="310.9" y="466.5" text-anchor="middle" font-size="7.2" fill="#4a4a4a"  textLength="4.12" lengthAdjust="spacingAndGlyphs">0</text>
<line x1="337.75" y1="456" x2="337.75" y2="458.3" stroke="#777" stroke-width="0.7" />
<text x="337.75" y="466.5" text-anchor="middle" font-size="7.2" fill="#4a4a4a"  textLength="8.24" lengthAdjust="spacingAndGlyphs">50</text>
<line x1="364.6" y1="456" x2="364.6" y2="458.3" stroke="#777" stroke-width="0.7" />
<text x="364.6" y="466.5" text-anchor="middle" font-size="7.2" fill="#4a4a4a"  textLength="12.36" lengthAdjust="spacingAndGlyphs">100</text>
<line x1="391.45" y1="456" x2="391.45" y2="458.3" stroke="#777" stroke-width="0.7" />
<text x="391.45" y="466.5" text-anchor="middle" font-size="7.2" fill="#4a4a4a"  textLength="12.36" lengthAdjust="spacingAndGlyphs">150</text>
<line x1="418.3" y1="456" x2="418.3" y2="458.3" stroke="#777" stroke-width="0.7" />
<text x="418.3" y="466.5" text-anchor="middle" font-size="7.2" fill="#4a4a4a"  textLength="12.36" lengthAdjust="spacingAndGlyphs">200</text>
<line x1="445.15" y1="456" x2="445.15" y2="458.3" stroke="#777" stroke-width="0.7" />
<text x="445.15" y="466.5" text-anchor="middle" font-size="7.2" fill="#4a4a4a"  textLength="12.36" lengthAdjust="spacingAndGlyphs">250</text>
<line x1="472" y1="456" x2="472" y2="458.3" stroke="#777" stroke-width="0.7" />
<text x="472" y="466.5" text-anchor="middle" font-size="7.2" fill="#4a4a4a"  textLength="12.36" lengthAdjust="spacingAndGlyphs">300</text>
<line x1="498.85" y1="456" x2="498.85" y2="458.3" stroke="#777" stroke-width="0.7" />
<text x="498.85" y="466.5" text-anchor="middle" font-size="7.2" fill="#4a4a4a"  textLength="12.36" lengthAdjust="spacingAndGlyphs">350</text>
<line x1="308.6" y1="438.5" x2="310.9" y2="438.5" stroke="#777" stroke-width="0.7" />
<text x="306" y="441.05" text-anchor="end" font-size="7.2" fill="#4a4a4a"  textLength="12.36" lengthAdjust="spacingAndGlyphs">200</text>
<line x1="308.6" y1="413.93" x2="310.9" y2="413.93" stroke="#777" stroke-width="0.7" />
<text x="306" y="416.48" text-anchor="end" font-size="7.2" fill="#4a4a4a"  textLength="12.36" lengthAdjust="spacingAndGlyphs">400</text>
<line x1="308.6" y1="389.37" x2="310.9" y2="389.37" stroke="#777" stroke-width="0.7" />
<text x="306" y="391.92" text-anchor="end" font-size="7.2" fill="#4a4a4a"  textLength="12.36" lengthAdjust="spacingAndGlyphs">600</text>
<line x1="308.6" y1="364.8" x2="310.9" y2="364.8" stroke="#777" stroke-width="0.7" />
<text x="306" y="367.35" text-anchor="end" font-size="7.2" fill="#4a4a4a"  textLength="12.36" lengthAdjust="spacingAndGlyphs">800</text>
<line x1="308.6" y1="340.24" x2="310.9" y2="340.24" stroke="#777" stroke-width="0.7" />
<text x="306" y="342.79" text-anchor="end" font-size="7.2" fill="#4a4a4a"  textLength="16.48" lengthAdjust="spacingAndGlyphs">1000</text>
<line x1="308.6" y1="315.67" x2="310.9" y2="315.67" stroke="#777" stroke-width="0.7" />
<text x="306" y="318.22" text-anchor="end" font-size="7.2" fill="#4a4a4a"  textLength="16.48" lengthAdjust="spacingAndGlyphs">1200</text>
<line x1="308.6" y1="291.1" x2="310.9" y2="291.1" stroke="#777" stroke-width="0.7" />
<text x="306" y="293.65" text-anchor="end" font-size="7.2" fill="#4a4a4a"  textLength="16.48" lengthAdjust="spacingAndGlyphs">1400</text>
<text x="392.6" y="475.2" textLength="27.2" lengthAdjust="spacingAndGlyphs" font-size="7.2" fill="#4a4a4a">DOA (&#8201;<tspan font-size="5" dy="-2">&#8728;</tspan><tspan dy="2">&#8201;)</tspan></text>
<text transform="translate(285.6,366.4) rotate(-90)" x="-25.7" textLength="51.4" lengthAdjust="spacingAndGlyphs" font-size="7.2" fill="#4a4a4a">Frequency (Hz)</text>
<rect x="513.3" y="424.76" width="8.6" height="23.14" fill="#481b6d"/>
<rect x="513.3" y="401.91" width="8.6" height="23.14" fill="#3f4788"/>
<rect x="513.3" y="379.07" width="8.6" height="23.14" fill="#2e6e8e"/>
<rect x="513.3" y="356.23" width="8.6" height="23.14" fill="#21918c"/>
<rect x="513.3" y="333.39" width="8.6" height="23.14" fill="#2db27d"/>
<rect x="513.3" y="310.54" width="8.6" height="23.14" fill="#73d056"/>
<rect x="513.3" y="287.7" width="8.6" height="23.14" fill="#d0e11c"/>
<line x1="521.9" y1="447.6" x2="524.2" y2="447.6" stroke="#777" stroke-width="0.7" />
<text x="526.5" y="450.15" text-anchor="start" font-size="7.2" fill="#4a4a4a"  textLength="14.46" lengthAdjust="spacingAndGlyphs">0.00</text>
<line x1="521.9" y1="424.76" x2="524.2" y2="424.76" stroke="#777" stroke-width="0.7" />
<text x="526.5" y="427.31" text-anchor="start" font-size="7.2" fill="#4a4a4a"  textLength="14.46" lengthAdjust="spacingAndGlyphs">0.15</text>
<line x1="521.9" y1="401.91" x2="524.2" y2="401.91" stroke="#777" stroke-width="0.7" />
<text x="526.5" y="404.46" text-anchor="start" font-size="7.2" fill="#4a4a4a"  textLength="14.46" lengthAdjust="spacingAndGlyphs">0.30</text>
<line x1="521.9" y1="379.07" x2="524.2" y2="379.07" stroke="#777" stroke-width="0.7" />
<text x="526.5" y="381.62" text-anchor="start" font-size="7.2" fill="#4a4a4a"  textLength="14.46" lengthAdjust="spacingAndGlyphs">0.45</text>
<line x1="521.9" y1="356.23" x2="524.2" y2="356.23" stroke="#777" stroke-width="0.7" />
<text x="526.5" y="358.78" text-anchor="start" font-size="7.2" fill="#4a4a4a"  textLength="14.46" lengthAdjust="spacingAndGlyphs">0.60</text>
<line x1="521.9" y1="333.39" x2="524.2" y2="333.39" stroke="#777" stroke-width="0.7" />
<text x="526.5" y="335.94" text-anchor="start" font-size="7.2" fill="#4a4a4a"  textLength="14.46" lengthAdjust="spacingAndGlyphs">0.75</text>
<line x1="521.9" y1="310.54" x2="524.2" y2="310.54" stroke="#777" stroke-width="0.7" />
<text x="526.5" y="313.09" text-anchor="start" font-size="7.2" fill="#4a4a4a"  textLength="14.46" lengthAdjust="spacingAndGlyphs">0.90</text>
<line x1="521.9" y1="287.7" x2="524.2" y2="287.7" stroke="#777" stroke-width="0.7" />
<text x="526.5" y="290.25" text-anchor="start" font-size="7.2" fill="#4a4a4a"  textLength="14.46" lengthAdjust="spacingAndGlyphs">1.05</text>
<text x="73.5" y="228.6" font-size="14.6" textLength="16" lengthAdjust="spacingAndGlyphs" class="cap" fill="#2a2a2a">(<tspan font-weight="bold">a</tspan>)</text>
<text x="96.6" y="228.6" font-size="14.6" textLength="105.7" lengthAdjust="spacingAndGlyphs" class="cap" fill="#2a2a2a">The mean OSPAs</text>
<text x="278.9" y="228.5" font-size="14.6" textLength="17.6" lengthAdjust="spacingAndGlyphs" class="cap" fill="#2a2a2a">(<tspan font-weight="bold">b</tspan>)</text>
<text x="303.6" y="228.5" font-size="14.6" textLength="240.8" lengthAdjust="spacingAndGlyphs" class="cap" fill="#2a2a2a">Normalized spatial pseudo-spectrum at</text>
<text x="377.6" y="247.8" font-size="14.6" textLength="69.6" lengthAdjust="spacingAndGlyphs" class="cap" fill="#2a2a2a">SNR = 0 dB</text>
<text x="13.5" y="502.1" font-size="14.6" textLength="15.1" lengthAdjust="spacingAndGlyphs" class="cap" fill="#2a2a2a">(<tspan font-weight="bold">c</tspan>)</text>
<text x="35.6" y="502.1" font-size="14.6" textLength="226.3" lengthAdjust="spacingAndGlyphs" class="cap" fill="#2a2a2a">Space-frequency pseudo-spectrum of</text>
<text x="74.1" y="521.3" font-size="14.6" textLength="127.3" lengthAdjust="spacingAndGlyphs" class="cap" fill="#2a2a2a">CFCN at SNR = 0 dB</text>
<text x="286.9" y="502.1" font-size="14.6" textLength="17.6" lengthAdjust="spacingAndGlyphs" class="cap" fill="#2a2a2a">(<tspan font-weight="bold">d</tspan>)</text>
<text x="311.6" y="502.1" font-size="14.6" textLength="225.4" lengthAdjust="spacingAndGlyphs" class="cap" fill="#2a2a2a">Space-frequency pseudo-spectrum of</text>
<text x="345.9" y="521.3" font-size="14.6" textLength="133.6" lengthAdjust="spacingAndGlyphs" class="cap" fill="#2a2a2a">MUSIC at SNR = 0 dB</text>
</svg>
</body></html>
